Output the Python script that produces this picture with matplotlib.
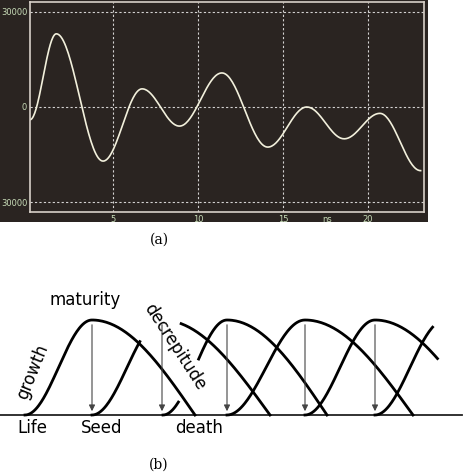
import numpy as np
import matplotlib.pyplot as plt

# (a) damped signal, extrema (x in ns, y in counts)
sig_x = [0.1, 1.65, 4.4, 6.7, 8.9, 11.4, 14.1, 16.4, 18.6, 20.7, 23.1]
sig_y = [-4000, 23000, -17000, 5700, -6000, 10700, -12600, 0, -10000, -2000, -20000]
xticks = [5, 10, 15, 20]
yticks = [-30000, 0, 30000]

# (b) arches in pixel units: start, peak, end (x)
arch_start = [25, 92, 163, 227, 305, 375]
arch_peak = [92, 162, 227, 305, 375, 445]
arch_end = [195, 270, 327, 413, 480, 550]
arch_cut = [None, None, None, None, 438, 433]
base_y, peak_y = 415, 320

W, H = 474, 474
fig = plt.figure(figsize=(W / 100, H / 100), dpi=100)

# dark screenshot background
bg = fig.add_axes([0, 1 - 222 / H, 428 / W, 222 / H])
bg.set_facecolor('#2a2421')
bg.set_xticks([])
bg.set_yticks([])
for s in bg.spines.values():
    s.set_visible(False)

ax = fig.add_axes([30 / W, 1 - 212 / H, 394 / W, 210 / H])
ax.set_facecolor('#2a2421')
xs, ys = [], []
for i in range(len(sig_x) - 1):
    t = np.linspace(0, 1, 40)
    xs.extend(sig_x[i] + (sig_x[i + 1] - sig_x[i]) * t)
    ys.extend(sig_y[i] + (sig_y[i + 1] - sig_y[i]) * (1 - np.cos(np.pi * t)) / 2)
ax.plot(xs, ys, color='#f2f0dc', lw=1.2)
ax.set_xlim(0.1, 23.3)
ax.set_ylim(-33000, 33000)
ax.set_xticks(xticks)
ax.set_yticks(yticks)
ax.grid(color='white', ls=(0, (2, 2)), lw=0.8, alpha=0.8)
ax.set_xticklabels(['5', '10', '15', '20'])
ax.set_yticklabels(['30000', '0', '30000'])
ax.tick_params(length=0, labelsize=6, colors='#c8dcb8', pad=2)
for s in ax.spines.values():
    s.set_color('#d8d0c8')
    s.set_linewidth(1.2)
ax.text(17.6, -34000, 'ns', color='#c8dcb8', fontsize=6, ha='center', va='top')
fig.text(159 / W, 1 - 240 / H, '(a)', family='serif', fontsize=10, ha='center', va='center')

# (b) life cycle diagram in pixel coordinates
bx = fig.add_axes([0, 0, 1, 1 - 262 / H])
bx.set_xlim(0, W)
bx.set_ylim(H, 262)
bx.axis('off')
bx.plot([0, 462], [base_y, base_y], color='#222222', lw=1.3)
hgt = base_y - peak_y
for i, (s, p, e, c) in enumerate(zip(arch_start, arch_peak, arch_end, arch_cut)):
    t = np.linspace(0, 1, 80)
    xr = s + (p - s) * t
    yr = base_y - hgt * (1 - np.cos(np.pi * t)) / 2
    xf = p + (e - p) * t
    yf = base_y - hgt * np.cos(np.pi / 2 * t)
    x, y = np.r_[xr, xf], np.r_[yr, yf]
    if c is not None:
        y = np.where(x > c, np.nan, y)
    if i == 1:
        y = np.where((x > 140) & (x < 180), np.nan, y)
    if i == 2:
        y = np.where((x > 179) & (x < 198), np.nan, y)
    bx.plot(x, y, color='k', lw=2)
for px in arch_peak[:5]:
    bx.annotate('', xy=(px, base_y - 1), xytext=(px, peak_y + 2),
                arrowprops=dict(arrowstyle='-|>', color='#444444', lw=0.8, mutation_scale=9))
bx.text(85, 300, 'maturity', fontsize=12, ha='center', va='center')
bx.text(33, 372, 'growth', fontsize=12, rotation=68, ha='center', va='center')
bx.text(175, 347, 'decrepitude', fontsize=12, rotation=-57, ha='center', va='center')
bx.text(32, 428, 'Life', fontsize=12, ha='center', va='center')
bx.text(102, 428, 'Seed', fontsize=12, ha='center', va='center')
bx.text(199, 428, 'death', fontsize=12, ha='center', va='center')
bx.text(159, 465, '(b)', family='serif', fontsize=10, ha='center', va='center')

fig.savefig('out.png', dpi=100)
